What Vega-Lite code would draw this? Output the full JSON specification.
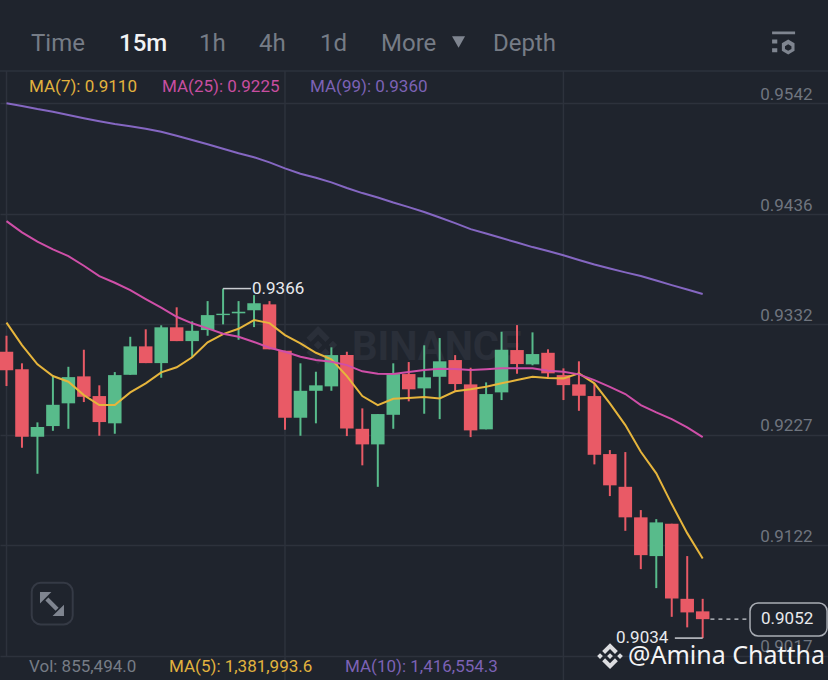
{
  "$schema": "https://vega.github.io/schema/vega-lite/v6.json",
  "width": 828,
  "height": 680,
  "padding": 0,
  "autosize": "none",
  "background": "#1f242d",
  "config": {"view": {"stroke": null}, "text": {"font": "Roboto"}},
  "datasets": {
    "candles": [
      {"slot":0,"open":0.9306,"high":0.93212,"low":0.92734,"close":0.92883,"ma7":0.93337,"ma25":0.94301,"ma99":0.9542},
      {"slot":1,"open":0.92893,"high":0.9295,"low":0.92148,"close":0.92252,"ma7":0.93123,"ma25":0.94194,"ma99":0.95394},
      {"slot":2,"open":0.92252,"high":0.92389,"low":0.91901,"close":0.92344,"ma7":0.9294,"ma25":0.94105,"ma99":0.95365},
      {"slot":3,"open":0.92354,"high":0.92829,"low":0.92309,"close":0.92556,"ma7":0.92829,"ma25":0.94033,"ma99":0.9534},
      {"slot":4,"open":0.9257,"high":0.92917,"low":0.92328,"close":0.92819,"ma7":0.92775,"ma25":0.93969,"ma99":0.95308},
      {"slot":5,"open":0.92826,"high":0.93079,"low":0.92582,"close":0.92632,"ma7":0.92648,"ma25":0.93877,"ma99":0.95277},
      {"slot":6,"open":0.92639,"high":0.92741,"low":0.92262,"close":0.92392,"ma7":0.92553,"ma25":0.93779,"ma99":0.95249},
      {"slot":7,"open":0.9238,"high":0.92867,"low":0.92281,"close":0.92838,"ma7":0.92553,"ma25":0.93715,"ma99":0.95223},
      {"slot":8,"open":0.92841,"high":0.93202,"low":0.92841,"close":0.93111,"ma7":0.92674,"ma25":0.93646,"ma99":0.95201},
      {"slot":9,"open":0.93111,"high":0.93273,"low":0.92952,"close":0.92952,"ma7":0.9276,"ma25":0.9356,"ma99":0.95178},
      {"slot":10,"open":0.92952,"high":0.93311,"low":0.92813,"close":0.93292,"ma7":0.92864,"ma25":0.93478,"ma99":0.9515},
      {"slot":11,"open":0.93292,"high":0.93482,"low":0.93161,"close":0.93161,"ma7":0.92912,"ma25":0.93392,"ma99":0.95112},
      {"slot":12,"open":0.93161,"high":0.93349,"low":0.93007,"close":0.93259,"ma7":0.93007,"ma25":0.9333,"ma99":0.95071},
      {"slot":13,"open":0.93266,"high":0.93541,"low":0.93212,"close":0.93408,"ma7":0.93149,"ma25":0.93282,"ma99":0.9503},
      {"slot":14,"open":0.93408,"high":0.9366,"low":0.9332,"close":0.93421,"ma7":0.93228,"ma25":0.93231,"ma99":0.94988},
      {"slot":15,"open":0.93425,"high":0.93541,"low":0.93174,"close":0.9344,"ma7":0.93278,"ma25":0.93202,"ma99":0.94945},
      {"slot":16,"open":0.93453,"high":0.93598,"low":0.93294,"close":0.9352,"ma7":0.93361,"ma25":0.93152,"ma99":0.94907},
      {"slot":17,"open":0.9351,"high":0.93541,"low":0.93083,"close":0.93083,"ma7":0.93332,"ma25":0.93098,"ma99":0.94859},
      {"slot":18,"open":0.93069,"high":0.93069,"low":0.92319,"close":0.92433,"ma7":0.93218,"ma25":0.9306,"ma99":0.94802},
      {"slot":19,"open":0.92433,"high":0.9295,"low":0.92262,"close":0.92689,"ma7":0.9314,"ma25":0.93012,"ma99":0.94751},
      {"slot":20,"open":0.92689,"high":0.9287,"low":0.9238,"close":0.92741,"ma7":0.9305,"ma25":0.92981,"ma99":0.94713},
      {"slot":21,"open":0.92731,"high":0.93102,"low":0.92689,"close":0.93028,"ma7":0.92988,"ma25":0.92965,"ma99":0.94669},
      {"slot":22,"open":0.93028,"high":0.9306,"low":0.92259,"close":0.92332,"ma7":0.92829,"ma25":0.92933,"ma99":0.94615},
      {"slot":23,"open":0.92328,"high":0.92522,"low":0.91981,"close":0.9218,"ma7":0.92639,"ma25":0.92874,"ma99":0.94567},
      {"slot":24,"open":0.9218,"high":0.92468,"low":0.91777,"close":0.92468,"ma7":0.92553,"ma25":0.92851,"ma99":0.94525},
      {"slot":25,"open":0.92461,"high":0.9295,"low":0.92328,"close":0.92848,"ma7":0.92613,"ma25":0.92848,"ma99":0.94477},
      {"slot":26,"open":0.92848,"high":0.92962,"low":0.92589,"close":0.92703,"ma7":0.9262,"ma25":0.92867,"ma99":0.94434},
      {"slot":27,"open":0.92712,"high":0.93121,"low":0.92471,"close":0.92817,"ma7":0.92629,"ma25":0.92886,"ma99":0.94387},
      {"slot":28,"open":0.92822,"high":0.9319,"low":0.9242,"close":0.92969,"ma7":0.92617,"ma25":0.92898,"ma99":0.94335},
      {"slot":29,"open":0.92981,"high":0.93028,"low":0.92689,"close":0.92753,"ma7":0.92684,"ma25":0.92895,"ma99":0.94282},
      {"slot":30,"open":0.9275,"high":0.92908,"low":0.92249,"close":0.92313,"ma7":0.92703,"ma25":0.92886,"ma99":0.94225},
      {"slot":31,"open":0.92323,"high":0.92769,"low":0.92323,"close":0.92658,"ma7":0.92727,"ma25":0.92893,"ma99":0.94183},
      {"slot":32,"open":0.92674,"high":0.9325,"low":0.92601,"close":0.93079,"ma7":0.9276,"ma25":0.92902,"ma99":0.9414},
      {"slot":33,"open":0.93076,"high":0.93313,"low":0.92851,"close":0.92943,"ma7":0.92791,"ma25":0.92902,"ma99":0.94097},
      {"slot":34,"open":0.9294,"high":0.93244,"low":0.92931,"close":0.93038,"ma7":0.92822,"ma25":0.92902,"ma99":0.94054},
      {"slot":35,"open":0.9305,"high":0.93083,"low":0.92813,"close":0.92855,"ma7":0.9281,"ma25":0.92879,"ma99":0.94016},
      {"slot":36,"open":0.92838,"high":0.92902,"low":0.92601,"close":0.92743,"ma7":0.92807,"ma25":0.9287,"ma99":0.93976},
      {"slot":37,"open":0.9275,"high":0.92969,"low":0.92499,"close":0.92642,"ma7":0.92855,"ma25":0.92845,"ma99":0.93931},
      {"slot":38,"open":0.92639,"high":0.92762,"low":0.9199,"close":0.92081,"ma7":0.9276,"ma25":0.92791,"ma99":0.93888},
      {"slot":39,"open":0.92088,"high":0.92126,"low":0.91689,"close":0.91791,"ma7":0.9257,"ma25":0.92727,"ma99":0.9385},
      {"slot":40,"open":0.91777,"high":0.92107,"low":0.91359,"close":0.91487,"ma7":0.92363,"ma25":0.92658,"ma99":0.93814},
      {"slot":41,"open":0.91487,"high":0.91556,"low":0.90995,"close":0.91128,"ma7":0.9211,"ma25":0.92553,"ma99":0.93779},
      {"slot":42,"open":0.91119,"high":0.9147,"low":0.90815,"close":0.91439,"ma7":0.91905,"ma25":0.92484,"ma99":0.93736},
      {"slot":43,"open":0.91426,"high":0.91426,"low":0.90542,"close":0.90717,"ma7":0.91613,"ma25":0.9242,"ma99":0.93693},
      {"slot":44,"open":0.90713,"high":0.91119,"low":0.90442,"close":0.90584,"ma7":0.91337,"ma25":0.92342,"ma99":0.93651},
      {"slot":45,"open":0.90594,"high":0.90713,"low":0.9034,"close":0.9052,"ma7":0.91097,"ma25":0.92249,"ma99":0.93608}
    ],
    "labels": [
      {"text":"Time","slot":1.584,"price":0.95983,"tone":"gray","group":"tab"},
      {"text":"1h","slot":12.443,"price":0.95983,"tone":"gray","group":"tab"},
      {"text":"4h","slot":16.322,"price":0.95983,"tone":"gray","group":"tab"},
      {"text":"1d","slot":20.265,"price":0.95983,"tone":"gray","group":"tab"},
      {"text":"More","slot":24.208,"price":0.95983,"tone":"gray","group":"tab"},
      {"text":"Depth","slot":31.448,"price":0.95983,"tone":"gray","group":"tab"},
      {"text":"MA(7): 0.9110","slot":1.454,"price":0.95574,"tone":"yellow","group":"small"},
      {"text":"MA(25): 0.9225","slot":10.052,"price":0.95574,"tone":"pink","group":"small"},
      {"text":"MA(99): 0.9360","slot":19.618,"price":0.95574,"tone":"purple","group":"small"},
      {"text":"Vol: 855,494.0","slot":1.454,"price":0.90064,"tone":"gray","group":"small"},
      {"text":"MA(5): 1,381,993.6","slot":10.504,"price":0.90064,"tone":"yellow","group":"small"},
      {"text":"MA(10): 1,416,554.3","slot":21.881,"price":0.90064,"tone":"purple","group":"small"},
      {"text":"0.9366","slot":15.87,"price":0.9366,"tone":"white","group":"small"},
      {"text":"0.9034","slot":39.4,"price":0.9034,"tone":"white","group":"small"},
      {"text":"0.9052","slot":48.77,"price":0.9052,"tone":"white","group":"small"}
    ]
  },
  "data": {"name": "candles"},
  "encoding": {
    "x": {"field": "slot", "type": "quantitative", "scale": {"domain": [-0.42, 53.1], "nice": false, "zero": false, "padding": 0}, "axis": null},
    "y": {
      "field": "price", "type": "quantitative",
      "scale": {"domain": [0.89942, 0.96401], "nice": false, "zero": false},
      "axis": {
        "values": [0.9542, 0.94364, 0.9332, 0.9227, 0.9122, 0.9017],
        "format": ".4f", "orient": "right", "title": null,
        "domain": false, "ticks": false,
        "grid": true, "gridColor": "#2d323c", "gridWidth": 1.5,
        "labelFont": "Roboto", "labelFontSize": 17, "labelColor": "#6f757f",
        "labelAlign": "right", "labelPadding": -16, "labelOffset": -9
      }
    }
  },
  "layer": [
    {
      "data": {"values": [{"slot": 0, "price": 0.95727, "bottom": 0.90171}, {"slot": 18, "price": 0.95727, "bottom": 0.89942}, {"slot": 36, "price": 0.95727, "bottom": 0.89942}]},
      "mark": {"type": "rule", "color": "#2d323c", "strokeWidth": 1.5},
      "encoding": {"y2": {"field": "bottom"}}
    },
    {
      "data": {"values": [{"slot": -0.42, "end": 53.1, "price": 0.95727}]},
      "mark": {"type": "rule", "color": "#2d323c", "strokeWidth": 1.5},
      "encoding": {"x2": {"field": "end"}}
    },
    {
      "data": {"values": [{"slot": 20.14, "price": 0.93123}]},
      "mark": {"type": "point", "filled": true, "opacity": 1, "color": "#2a2f39", "size": 1600, "shape": "M-.367 -.16 L0 -.527 L.367 -.16 L.58 -.373 L0 -.953 L-.58 -.373 Z M-.953 0 L-.74 -.213 L-.527 0 L-.74 .213 Z M-.367 .16 L0 .527 L.367 .16 L.58 .373 L0 .953 L-.58 .373 Z M.527 0 L.74 -.213 L.953 0 L.74 .213 Z M.217 0 L0 -.217 L-.217 0 L0 .217 Z"}
    },
    {
      "data": {"values": [{"text": "BINANCE", "slot": 22.33, "price": 0.93095}]},
      "mark": {"type": "text", "align": "left", "baseline": "middle", "font": "Roboto", "fontWeight": "bold", "fontSize": 40, "color": "#2a2f39"},
      "encoding": {"text": {"field": "text"}}
    },
    {
      "mark": {"type": "rule", "strokeWidth": 2},
      "encoding": {
        "y": {"field": "high", "type": "quantitative", "title": null, "scale": {"domain": [0.89942, 0.96401], "nice": false, "zero": false}},
        "y2": {"field": "low"},
        "color": {"condition": {"test": "datum.close < datum.open", "value": "#e95a66"}, "value": "#58bb8b"}
      }
    },
    {
      "mark": {"type": "bar", "size": 13.5},
      "encoding": {
        "y": {"field": "open", "type": "quantitative", "title": null, "scale": {"domain": [0.89942, 0.96401], "nice": false, "zero": false}},
        "y2": {"field": "close"},
        "color": {"condition": {"test": "datum.close < datum.open", "value": "#e95a66"}, "value": "#58bb8b"}
      }
    },
    {
      "mark": {"type": "line", "color": "#e6b53c", "strokeWidth": 2},
      "encoding": {"y": {"field": "ma7", "type": "quantitative", "title": null, "scale": {"domain": [0.89942, 0.96401], "nice": false, "zero": false}}}
    },
    {
      "mark": {"type": "line", "color": "#cf4fa8", "strokeWidth": 2},
      "encoding": {"y": {"field": "ma25", "type": "quantitative", "title": null, "scale": {"domain": [0.89942, 0.96401], "nice": false, "zero": false}}}
    },
    {
      "mark": {"type": "line", "color": "#8567c2", "strokeWidth": 2},
      "encoding": {"y": {"field": "ma99", "type": "quantitative", "title": null, "scale": {"domain": [0.89942, 0.96401], "nice": false, "zero": false}}}
    },
    {
      "data": {"values": [{"slot": 14, "end": 15.8, "price": 0.9366}, {"slot": 43.2, "end": 45, "price": 0.9034}]},
      "mark": {"type": "rule", "color": "#c9ccd1", "strokeWidth": 1.5},
      "encoding": {"x2": {"field": "end"}}
    },
    {
      "data": {"values": [{"slot": 45.5, "end": 48.06, "price": 0.9052}]},
      "mark": {"type": "rule", "color": "#c9ccd1", "strokeWidth": 1.2, "strokeDash": [4, 4]},
      "encoding": {"x2": {"field": "end"}}
    },
    {
      "data": {"values": [{"slot": 48.06, "end": 53.04, "price": 0.90673, "priceEnd": 0.9036}]},
      "mark": {"type": "rect", "fill": "#1f242d", "stroke": "#a9adb4", "strokeWidth": 1.5, "cornerRadius": 8},
      "encoding": {"x2": {"field": "end"}, "y2": {"field": "priceEnd"}}
    },
    {
      "data": {"values": [{"slot": 1.63, "end": 4.28, "price": 0.90865, "priceEnd": 0.9047}]},
      "mark": {"type": "rect", "fill": "#1f242d", "stroke": "#353a45", "strokeWidth": 2, "cornerRadius": 9},
      "encoding": {"x2": {"field": "end"}, "y2": {"field": "priceEnd"}}
    },
    {
      "data": {"values": [{"slot": 2.94, "price": 0.90663}]},
      "mark": {"type": "point", "filled": true, "opacity": 1, "color": "#7f8590", "size": 576, "shape": "M-1 -1 L-.05 -1 L-1 -.05 Z M-.55 -.3 L-.3 -.55 L.55 .3 L.3 .55 Z M1 1 L.05 1 L1 .05 Z"}
    },
    {
      "data": {"values": [{"slot": 50.23, "price": 0.95993}]},
      "mark": {"type": "point", "filled": true, "opacity": 1, "color": "#7f8590", "size": 529, "shape": "M-1 -1 L1 -1 L1 -.75 L-1 -.75 Z M-1 -.3 L-.55 -.3 L-.55 .05 L-1 .05 Z M-1 .45 L-.55 .45 L-.55 .8 L-1 .8 Z M.4 -.3 L.95 .02 L.95 .68 L.4 1 L-.15 .68 L-.15 .02 Z M.4 .12 L.12 .28 L.12 .52 L.4 .68 L.68 .52 L.68 .28 Z"}
    },
    {
      "data": {"values": [{"slot": 29.22, "price": 0.96002}]},
      "mark": {"type": "point", "shape": "triangle-down", "filled": true, "opacity": 1, "color": "#7f8590", "size": 170}
    },
    {
      "data": {"name": "labels"},
      "transform": [{"filter": "datum.group == 'tab'"}],
      "mark": {"type": "text", "align": "left", "baseline": "middle", "font": "Roboto", "fontSize": 24},
      "encoding": {
        "text": {"field": "text"},
        "color": {"field": "tone", "type": "nominal", "legend": null, "scale": {"domain": ["gray", "white", "yellow", "pink", "purple"], "range": ["#767c86", "#e8eaed", "#e2b33e", "#c84ea0", "#7c62b5"]}}
      }
    },
    {
      "data": {"name": "labels"},
      "transform": [{"filter": "datum.group == 'small'"}],
      "mark": {"type": "text", "align": "left", "baseline": "middle", "font": "Roboto", "fontSize": 17},
      "encoding": {
        "text": {"field": "text"},
        "color": {"field": "tone", "type": "nominal", "legend": null, "scale": {"domain": ["gray", "white", "yellow", "pink", "purple"], "range": ["#767c86", "#e8eaed", "#e2b33e", "#c84ea0", "#7c62b5"]}}
      }
    },
    {
      "data": {"values": [{"text": "15m", "slot": 7.272, "price": 0.95983}]},
      "mark": {"type": "text", "align": "left", "baseline": "middle", "font": "Roboto", "fontWeight": 500, "fontSize": 24, "color": "#f2f3f5"},
      "encoding": {"text": {"field": "text"}}
    },
    {
      "data": {"values": [{"slot": 39.01, "price": 0.90169}]},
      "mark": {"type": "point", "filled": true, "opacity": 1, "color": "#dcdde0", "size": 729, "shape": "M-.367 -.16 L0 -.527 L.367 -.16 L.58 -.373 L0 -.953 L-.58 -.373 Z M-.953 0 L-.74 -.213 L-.527 0 L-.74 .213 Z M-.367 .16 L0 .527 L.367 .16 L.58 .373 L0 .953 L-.58 .373 Z M.527 0 L.74 -.213 L.953 0 L.74 .213 Z M.217 0 L0 -.217 L-.217 0 L0 .217 Z"}
    },
    {
      "data": {"values": [{"text": "@Amina Chattha", "slot": 40.17, "price": 0.90169}]},
      "mark": {"type": "text", "align": "left", "baseline": "middle", "font": "Noto Sans", "fontSize": 25, "color": "#f4f4f5"},
      "encoding": {"text": {"field": "text"}}
    }
  ]
}
